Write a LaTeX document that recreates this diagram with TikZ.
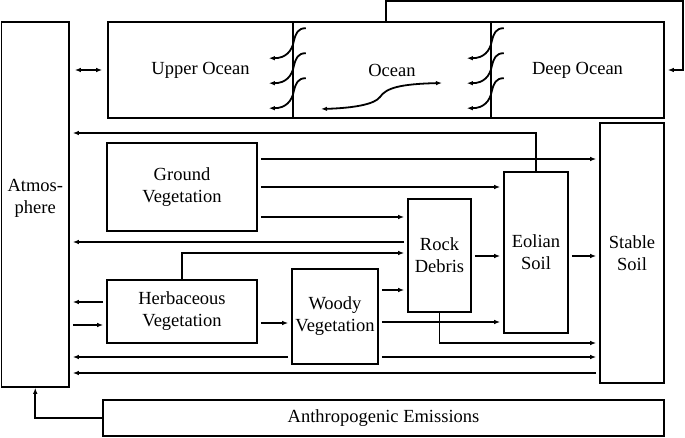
\documentclass[tikz,border=0pt]{standalone}
\usepackage{fontspec}
\setmainfont{Liberation Serif}
\usetikzlibrary{arrows.meta}
\begin{document}
\begin{tikzpicture}[x=1pt,y=-1pt,
  box/.style={draw, line width=1.6pt, inner sep=0pt, align=center,
    font=\fontsize{18.5}{22}\selectfont},
  tip/.tip={Latex[length=6pt,width=4.5pt]},
  flow/.style={line width=1.8pt, -tip, shorten <=3pt, shorten >=3pt},
  flowb/.style={line width=1.8pt, -tip, shorten >=3pt},
  wavy/.style={line width=1.8pt, -tip}]
\useasboundingbox (0,0) rectangle (685,438);

% boxes
\node[box, minimum width=67.5pt, minimum height=365pt,
  label={[font=\fontsize{18.5}{22}\selectfont, align=center, yshift=6pt]center:Atmos-\\phere}] (atm) at (35.25,204.5) {};
\node[box, minimum width=185pt, minimum height=96pt] (upper) at (200.5,70) {Upper Ocean};
\node[box, minimum width=198pt, minimum height=96pt] (ocean) at (392,70) {Ocean};
\node[box, minimum width=173pt, minimum height=96pt] (deep) at (577.5,70) {Deep Ocean};
\node[box, minimum width=150pt, minimum height=88pt] (ground) at (182,187) {Ground\\Vegetation};
\node[box, minimum width=150pt, minimum height=63pt] (herb) at (182,311.5) {Herbaceous\\Vegetation};
\node[box, minimum width=86pt, minimum height=95pt] (woody) at (335,316.5) {Woody\\Vegetation};
\node[box, minimum width=63pt, minimum height=113pt] (rock) at (439.5,255.5) {Rock\\Debris};
\node[box, minimum width=64pt, minimum height=161pt] (eolian) at (536,252.5) {Eolian\\Soil};
\node[box, minimum width=64pt, minimum height=260pt] (stable) at (632,253) {Stable\\Soil};
\node[box, minimum width=561pt, minimum height=36pt] (anthro) at (383.5,418) {Anthropogenic Emissions};

% ocean internal fluxes
\foreach \d in {upper, ocean}{
  \begin{scope}[shift={(\d.north east)}]
    \foreach \dy in {0,25,50}{
      \draw[wavy] (12,7+\dy) .. controls (4,7+\dy) and (2,12+\dy) .. (0,20+\dy)
        .. controls (-2,30+\dy) and (-8,37+\dy) .. (-25,37+\dy);
    }
  \end{scope}
}
\draw[line width=1.8pt, tip-tip] (321,109) .. controls (355,108) and (375,104) .. (380,97)
  .. controls (386,88) and (400,84) .. (442,83);

% connectors
\coordinate (loopc) at (683,1);
\draw[flowb] ([xshift=-6pt]ocean.north) |- (loopc) |- (deep.east);
\draw[line width=1.8pt, tip-tip, shorten <=5pt, shorten >=5pt] (atm.east |- upper.west) -- (upper.west);

\draw[flowb] (eolian.north) |- (atm.east |- 0,133);
\draw[flow] (ground.east |- 0,159) -- (stable.west |- 0,159);
\draw[flow] (ground.east |- 0,187) -- (eolian.west |- 0,187);
\draw[flow] (ground.east |- 0,217) -- (rock.west |- 0,217);
\draw[flow] (rock.west |- 0,242) -- (atm.east |- 0,242);
\draw[flowb] (herb.north) |- (rock.west |- 0,253);
\draw[flow] (rock.east |- 0,256) -- (eolian.west |- 0,256);
\draw[flow] (eolian.east |- 0,256) -- (stable.west |- 0,256);
\draw[flow] (herb.west |- 0,302) -- (atm.east |- 0,302);
\draw[flow] (atm.east |- 0,325) -- (herb.west |- 0,325);
\draw[flow] (herb.east |- 0,323) -- (woody.west |- 0,323);
\draw[flow] (woody.east |- 0,290) -- (rock.west |- 0,290);
\draw[flow] (woody.east |- 0,322) -- (eolian.west |- 0,322);
\draw[flowb] (rock.south) |- (stable.west |- 0,343);
\draw[flow] (woody.east |- 0,357) -- (stable.west |- 0,357);
\draw[flow] (woody.west |- 0,357) -- (atm.east |- 0,357);
\draw[flow] (stable.west |- 0,373) -- (atm.east |- 0,373);
\draw[line width=1.8pt, -tip] (anthro.west) -| (atm.south);
\end{tikzpicture}
\end{document}
